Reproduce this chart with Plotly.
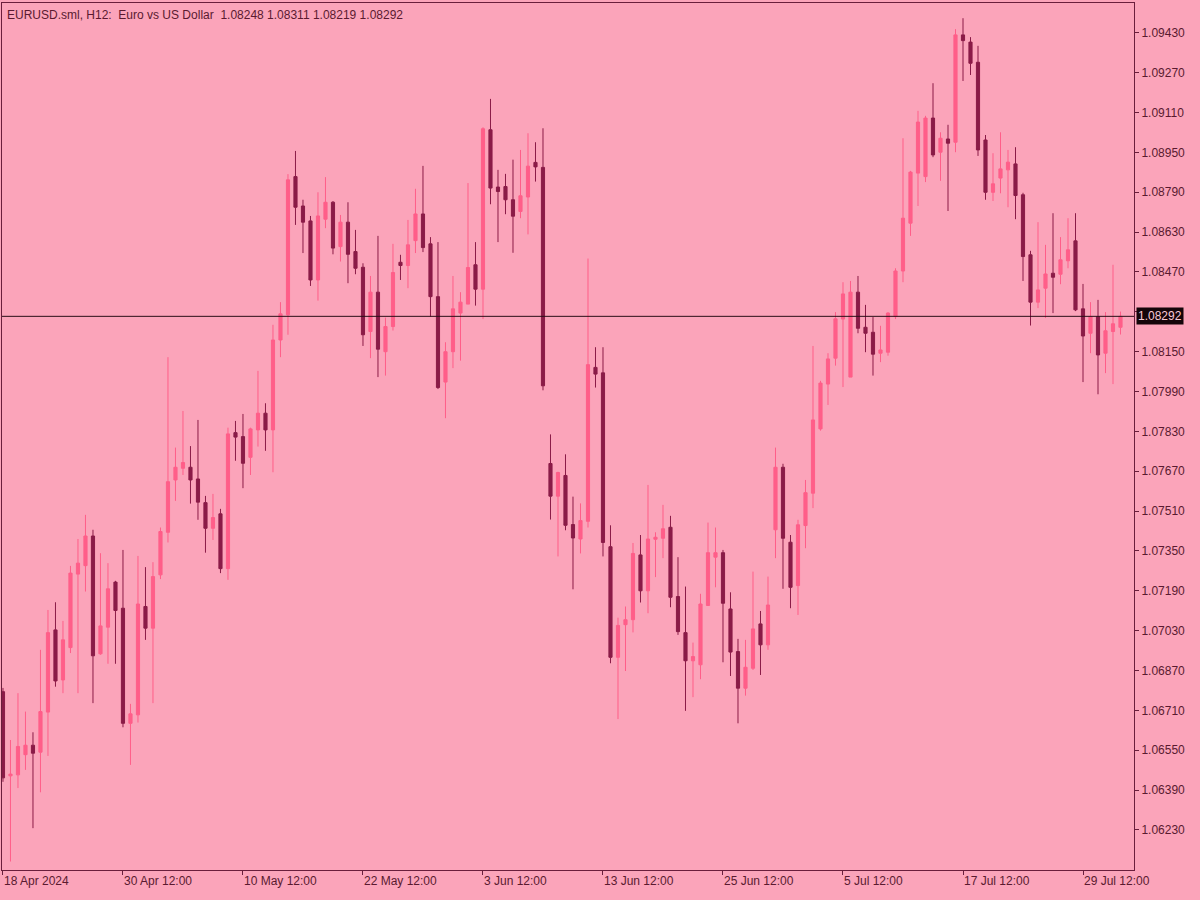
import pandas as pd
import plotly.graph_objects as go

# EURUSD.sml H12 candles, first bar 18 Apr 2024 12:00, last bar 1 Aug 2024 00:00
opens = [1.06785, 1.06447, 1.06451, 1.06532, 1.06570, 1.06542, 1.06703, 1.07033, 1.06832, 1.06962,
         1.07257, 1.07291, 1.07410, 1.06937, 1.07044, 1.07225, 1.07120, 1.06658, 1.06692, 1.07127,
         1.07040, 1.07254, 1.07425, 1.07635, 1.07682, 1.07686, 1.07639, 1.07544, 1.07441, 1.07499,
         1.07279, 1.07825, 1.07809, 1.07726, 1.07836, 1.07903, 1.07836, 1.08197, 1.08298, 1.08853,
         1.08735, 1.08675, 1.08438, 1.08682, 1.08750, 1.08572, 1.08670, 1.08552, 1.08489, 1.08231,
         1.08389, 1.08150, 1.08251, 1.08509, 1.08496, 1.08596, 1.08703, 1.08583, 1.08371, 1.08028,
         1.08150, 1.08305, 1.08341, 1.08499, 1.08401, 1.09041, 1.08811, 1.08813, 1.08760, 1.08713,
         1.08771, 1.08910, 1.08890, 1.07701, 1.07570, 1.07653, 1.07456, 1.07398, 1.07469, 1.08087,
         1.08065, 1.07367, 1.06923, 1.07054, 1.07074, 1.07334, 1.07190, 1.07397, 1.07401, 1.07445,
         1.07167, 1.07022, 1.06909, 1.06893, 1.07131, 1.07325, 1.07343, 1.07117, 1.06946, 1.06799,
         1.06879, 1.07057, 1.06973, 1.07435, 1.07686, 1.07385, 1.07211, 1.07452, 1.07582, 1.07840,
         1.08020, 1.08124, 1.08281, 1.08048, 1.08389, 1.08248, 1.08228, 1.08144, 1.08148, 1.08291,
         1.08474, 1.08666, 1.08867, 1.08853, 1.09088, 1.08951, 1.09004, 1.08991, 1.09422, 1.09393,
         1.09312, 1.09000, 1.08790, 1.08847, 1.08880, 1.08904, 1.08780, 1.08539, 1.08349, 1.08405,
         1.08465, 1.08461, 1.08515, 1.08595, 1.08322, 1.08224, 1.08291, 1.08144, 1.08231, 1.08248]
highs = [1.06800, 1.06591, 1.06779, 1.06705, 1.06622, 1.06953, 1.07113, 1.07144, 1.07069, 1.07290,
         1.07398, 1.07495, 1.07435, 1.07341, 1.07301, 1.07230, 1.07354, 1.06736, 1.07330, 1.07285,
         1.07305, 1.07444, 1.08128, 1.07765, 1.07912, 1.07771, 1.07876, 1.07571, 1.07579, 1.07519,
         1.07845, 1.07872, 1.07900, 1.07845, 1.08073, 1.07943, 1.08258, 1.08349, 1.08863, 1.08956,
         1.08760, 1.08695, 1.08790, 1.08851, 1.08755, 1.08699, 1.08750, 1.08639, 1.08505, 1.08454,
         1.08615, 1.08287, 1.08583, 1.08539, 1.08679, 1.08804, 1.08896, 1.08610, 1.08590, 1.08188,
         1.08454, 1.08389, 1.08827, 1.08590, 1.09051, 1.09165, 1.08880, 1.08864, 1.08921, 1.08960,
         1.09027, 1.08991, 1.09047, 1.07818, 1.07668, 1.07738, 1.07568, 1.07541, 1.08524, 1.08168,
         1.08168, 1.07453, 1.07082, 1.07127, 1.07382, 1.07414, 1.07615, 1.07425, 1.07535, 1.07491,
         1.07325, 1.07207, 1.06982, 1.07178, 1.07464, 1.07444, 1.07354, 1.07184, 1.06997, 1.06993,
         1.07267, 1.07109, 1.07247, 1.07765, 1.07700, 1.07414, 1.07475, 1.07635, 1.08173, 1.08033,
         1.08144, 1.08309, 1.08429, 1.08434, 1.08454, 1.08338, 1.08289, 1.08254, 1.08309, 1.08485,
         1.09007, 1.08876, 1.09117, 1.09097, 1.09228, 1.09031, 1.09061, 1.09445, 1.09489, 1.09413,
         1.09378, 1.09020, 1.08947, 1.09031, 1.08960, 1.08971, 1.08788, 1.08555, 1.08670, 1.08579,
         1.08706, 1.08610, 1.08686, 1.08706, 1.08422, 1.08349, 1.08358, 1.08309, 1.08499, 1.08311]
lows = [1.06423, 1.06103, 1.06398, 1.06471, 1.06237, 1.06381, 1.06527, 1.06805, 1.06779, 1.06940,
        1.06779, 1.07187, 1.06739, 1.06933, 1.06897, 1.06897, 1.06642, 1.06491, 1.06661, 1.06993,
        1.06739, 1.07237, 1.07384, 1.07551, 1.07655, 1.07540, 1.07475, 1.07343, 1.07394, 1.07261,
        1.07234, 1.07712, 1.07602, 1.07655, 1.07769, 1.07752, 1.07666, 1.08128, 1.08218, 1.08659,
        1.08546, 1.08414, 1.08355, 1.08646, 1.08541, 1.08512, 1.08425, 1.08461, 1.08173, 1.08124,
        1.08048, 1.08054, 1.08235, 1.08438, 1.08405, 1.08546, 1.08550, 1.08291, 1.08000, 1.07883,
        1.08084, 1.08114, 1.08341, 1.08335, 1.08281, 1.08742, 1.08590, 1.08702, 1.08547, 1.08686,
        1.08621, 1.08833, 1.07995, 1.07476, 1.07328, 1.07433, 1.07196, 1.07340, 1.07444, 1.08006,
        1.07328, 1.06899, 1.06675, 1.06868, 1.07023, 1.07143, 1.07100, 1.07245, 1.07321, 1.07124,
        1.07013, 1.06708, 1.06763, 1.06835, 1.07131, 1.07204, 1.06903, 1.06848, 1.06658, 1.06769,
        1.06872, 1.06852, 1.06953, 1.07321, 1.07198, 1.07120, 1.07093, 1.07361, 1.07522, 1.07833,
        1.07936, 1.08094, 1.08008, 1.08048, 1.08224, 1.08148, 1.08054, 1.08108, 1.08134, 1.08281,
        1.08429, 1.08615, 1.08735, 1.08831, 1.08931, 1.08836, 1.08715, 1.08951, 1.09237, 1.09261,
        1.08936, 1.08760, 1.08755, 1.08786, 1.08730, 1.08682, 1.08434, 1.08255, 1.08325, 1.08285,
        1.08305, 1.08421, 1.08485, 1.08313, 1.08028, 1.08144, 1.07979, 1.08064, 1.08020, 1.08219]
closes = [1.06439, 1.06454, 1.06565, 1.06570, 1.06538, 1.06705, 1.07022, 1.06828, 1.06993, 1.07261,
          1.07301, 1.07410, 1.06929, 1.07049, 1.07198, 1.07111, 1.06658, 1.06696, 1.07137, 1.07040,
          1.07247, 1.07428, 1.07628, 1.07686, 1.07705, 1.07635, 1.07546, 1.07441, 1.07484, 1.07279,
          1.07820, 1.07807, 1.07702, 1.07840, 1.07903, 1.07836, 1.08197, 1.08302, 1.08840, 1.08730,
          1.08670, 1.08438, 1.08695, 1.08750, 1.08566, 1.08670, 1.08541, 1.08485, 1.08218, 1.08389,
          1.08160, 1.08251, 1.08468, 1.08496, 1.08579, 1.08703, 1.08568, 1.08371, 1.08006, 1.08150,
          1.08322, 1.08349, 1.08488, 1.08401, 1.09045, 1.08807, 1.08793, 1.08760, 1.08694, 1.08776,
          1.08895, 1.08892, 1.08013, 1.07570, 1.07665, 1.07453, 1.07402, 1.07472, 1.08098, 1.08060,
          1.07384, 1.06923, 1.07051, 1.07074, 1.07340, 1.07190, 1.07398, 1.07405, 1.07439, 1.07164,
          1.07026, 1.06909, 1.06926, 1.07137, 1.07343, 1.07343, 1.07140, 1.06944, 1.06799, 1.06883,
          1.07037, 1.06973, 1.07133, 1.07686, 1.07401, 1.07204, 1.07455, 1.07584, 1.07876, 1.08024,
          1.08121, 1.08282, 1.08382, 1.08389, 1.08244, 1.08224, 1.08140, 1.08157, 1.08305, 1.08474,
          1.08686, 1.08871, 1.09072, 1.09088, 1.08940, 1.09007, 1.08987, 1.09422, 1.09399, 1.09308,
          1.08960, 1.08790, 1.08824, 1.08884, 1.08911, 1.08777, 1.08532, 1.08349, 1.08398, 1.08462,
          1.08449, 1.08519, 1.08559, 1.08318, 1.08213, 1.08291, 1.08137, 1.08234, 1.08262, 1.08292]

# time axis labels (MT prints them left aligned from the tick)
tick_times = ["2024-04-18 12:00", "2024-04-30 12:00", "2024-05-10 12:00", "2024-05-22 12:00",
              "2024-06-03 12:00", "2024-06-13 12:00", "2024-06-25 12:00", "2024-07-05 12:00",
              "2024-07-17 12:00", "2024-07-29 12:00"]
tick_labels = ["18 Apr 2024", "30 Apr 12:00", "10 May 12:00", "22 May 12:00", "3 Jun 12:00",
               "13 Jun 12:00", "25 Jun 12:00", "5 Jul 12:00", "17 Jul 12:00", "29 Jul 12:00"]

# price scale
price_ticks = [1.06230, 1.06390, 1.06550, 1.06710, 1.06870, 1.07030, 1.07190, 1.07350, 1.07510,
               1.07670, 1.07830, 1.07990, 1.08150, 1.08310, 1.08470, 1.08630, 1.08790, 1.08950,
               1.09110, 1.09270, 1.09430]

title = "EURUSD.sml, H12:  Euro vs US Dollar  1.08248 1.08311 1.08219 1.08292"
last_price = closes[-1]

# two bars per trading day (00:00 and 12:00), no weekends
days = pd.bdate_range("2024-04-18", "2024-08-01")
times = []
for d in days:
    times.append(d.strftime("%Y-%m-%d") + " 00:00")
    times.append(d.strftime("%Y-%m-%d") + " 12:00")
times = times[1:-1]

# the 1.08310 label sits under the current price tag, so leave it blank
price_text = []
for p in price_ticks:
    if abs(p - last_price) < 0.0004:
        price_text.append("")
    else:
        price_text.append(f"{p:.5f}")

bg = "#FBA4BA"
bull = "#FF5E89"
bear = "#8A1B47"
ink = "#5A1A30"
frame = "#6A1E3C"

fig = go.Figure()
fig.add_trace(go.Candlestick(
    x=times, open=opens, high=highs, low=lows, close=closes,
    increasing=dict(line=dict(color=bull, width=1), fillcolor=bull),
    decreasing=dict(line=dict(color=bear, width=1), fillcolor=bear),
    whiskerwidth=0, showlegend=False, hoverinfo="skip"))

# current price line
fig.add_shape(type="line", xref="paper", x0=0, x1=1, y0=last_price, y1=last_price,
              line=dict(color="#2A0E18", width=1))

fig.add_annotation(xref="paper", x=1, y=last_price, xanchor="left", yanchor="middle",
                   xshift=2, text=f"{last_price:.5f}", showarrow=False,
                   bgcolor="#140509", borderpad=1,
                   font=dict(family="Liberation Sans", size=12, color="#F7CAD6"))

fig.add_annotation(xref="paper", yref="paper", x=0, y=1, xanchor="left", yanchor="top",
                   xshift=3, yshift=-3, text=title, showarrow=False,
                   font=dict(family="Liberation Sans", size=12, color=ink))

fig.update_layout(
    width=1200, height=900,
    margin=dict(l=2, r=66, t=3, b=30),
    paper_bgcolor=bg, plot_bgcolor=bg,
    font=dict(family="Liberation Sans", size=12, color=ink),
    boxgap=0.4,
    xaxis=dict(type="category", range=[-0.13, 150.8], rangeslider=dict(visible=False),
               tickvals=tick_times, ticktext=tick_labels, ticklabelposition="outside right",
               ticks="outside", ticklen=4, tickcolor=frame, showgrid=False,
               showline=True, mirror=True, linecolor=frame, linewidth=1, zeroline=False),
    yaxis=dict(side="right", range=[1.06069, 1.09550], tickvals=price_ticks, ticktext=price_text,
               ticks="outside", ticklen=4, tickcolor=frame, showgrid=False,
               showline=True, mirror=True, linecolor=frame, linewidth=1, zeroline=False),
)

# drop the default page margin so the chart fills the window like the terminal does
fig.write_html("out.html", config={"displayModeBar": False},
               post_script="document.body.style.margin='0';document.body.style.background='" + bg + "';")
